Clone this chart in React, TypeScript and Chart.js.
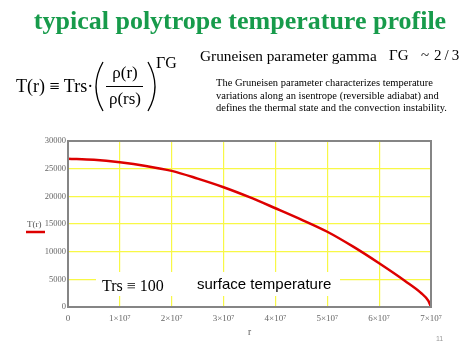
import React, { useEffect, useRef } from "react";
import { Chart, registerables } from "chart.js";

Chart.register(...registerables);

// ---- data ----
const radius = [0, 0.5e7, 1e7, 1.5e7, 2e7, 2.5e7, 3e7, 3.5e7, 4e7, 4.5e7, 5e7, 5.5e7, 6e7, 6.5e7, 6.8e7, 6.95e7, 7e7];
const temperature = [26800, 26600, 26150, 25500, 24600, 23200, 21650, 19850, 17850, 15800, 13600, 10900, 7900, 4700, 2600, 1100, 0];
const xTickValues = [0, 1e7, 2e7, 3e7, 4e7, 5e7, 6e7, 7e7];
const xTickLabels = ["0", "1×10⁷", "2×10⁷", "3×10⁷", "4×10⁷", "5×10⁷", "6×10⁷", "7×10⁷"];
const yTickValues = [0, 5000, 10000, 15000, 20000, 25000, 30000];
const yTickLabels = ["0", "5000", "10000", "15000", "20000", "25000", "30000"];

const SERIF = '"Liberation Serif", "Times New Roman", serif';
const SANS = '"Liberation Sans", Arial, sans-serif';
const GRID = "rgb(248,248,70)";

const overlayPlugin = {
  id: "slideOverlay",
  beforeDatasetsDraw(chart: any) {
    const { ctx } = chart;
    ctx.save();
    ctx.fillStyle = "#ffffff";
    ctx.fillRect(96, 272, 244, 24);
    ctx.restore();
  },
  afterDraw(chart: any) {
    const { ctx, chartArea } = chart;
    ctx.save();
    // plot frame
    ctx.strokeStyle = "#858585";
    ctx.lineWidth = 2;
    ctx.strokeRect(chartArea.left, chartArea.top, chartArea.right - chartArea.left, chartArea.bottom - chartArea.top);
    // annotations
    ctx.fillStyle = "#000";
    ctx.textBaseline = "alphabetic";
    ctx.textAlign = "left";
    ctx.font = `16px ${SERIF}`;
    ctx.fillText("Trs ≡ 100", 102, 291);
    ctx.font = `15px ${SANS}`;
    ctx.fillText("surface temperature", 197, 289);
    // legend-like label
    ctx.fillStyle = "#555";
    ctx.font = `9px ${SERIF}`;
    ctx.fillText("T(r)", 27, 227);
    ctx.strokeStyle = "#dd0000";
    ctx.lineWidth = 2.5;
    ctx.beginPath();
    ctx.moveTo(26, 232);
    ctx.lineTo(45, 232);
    ctx.stroke();
    // page number
    ctx.fillStyle = "#999";
    ctx.font = `7px ${SANS}`;
    ctx.fillText("11", 436, 341);
    ctx.restore();
  },
};

function Txt(props: { x: number; y: number; size: number; children: any; style?: any; center?: boolean }) {
  const { x, y, size, children, style, center } = props;
  const base: any = {
    position: "absolute",
    top: y - 0.8375 * size,
    fontSize: size,
    lineHeight: size + "px",
    whiteSpace: "nowrap",
    fontFamily: SERIF,
    color: "#000",
  };
  if (center) {
    base.left = x - 100;
    base.width = 200;
    base.textAlign = "center";
  } else {
    base.left = x;
  }
  return <div style={{ ...base, ...style }}>{children}</div>;
}

export default function App() {
  const canvasRef = useRef<HTMLCanvasElement | null>(null);

  useEffect(() => {
    const canvas = canvasRef.current;
    if (!canvas) return;
    const chart = new Chart(canvas, {
      type: "line",
      data: {
        datasets: [
          {
            label: "T(r)",
            data: radius.map((r, i) => ({ x: r, y: temperature[i] })),
            borderColor: "#dd0000",
            borderWidth: 2.5,
            pointRadius: 0,
            fill: false,
            cubicInterpolationMode: "monotone",
          },
        ],
      },
      options: {
        animation: false,
        responsive: false,
        devicePixelRatio: 1,
        layout: { padding: { left: 0, top: 141, right: 43, bottom: 0 } },
        plugins: { legend: { display: false }, tooltip: { enabled: false } },
        scales: {
          x: {
            type: "linear",
            min: 0,
            max: 7e7,
            afterFit: (s: any) => {
              s.height = 48;
            },
            afterBuildTicks: (s: any) => {
              s.ticks = xTickValues.map((v) => ({ value: v }));
            },
            ticks: {
              callback: (v: any) => {
                const i = xTickValues.indexOf(Number(v));
                return i >= 0 ? xTickLabels[i] : "";
              },
              color: "#666",
              font: { family: SERIF, size: 9 },
              padding: 6,
              maxRotation: 0,
              autoSkip: false,
            },
            grid: { color: GRID, lineWidth: 1.2, drawTicks: false },
            border: { display: false },
            title: {
              display: true,
              text: "r",
              color: "#555",
              font: { family: SERIF, size: 9.5 },
              padding: { top: 0, bottom: 17 },
            },
          },
          y: {
            min: 0,
            max: 30000,
            afterFit: (s: any) => {
              s.width = 68;
            },
            afterBuildTicks: (s: any) => {
              s.ticks = yTickValues.map((v) => ({ value: v }));
            },
            ticks: {
              callback: (v: any) => {
                const i = yTickValues.indexOf(Number(v));
                return i >= 0 ? yTickLabels[i] : "";
              },
              color: "#666",
              font: { family: SERIF, size: 8.5 },
              padding: 2,
            },
            grid: { color: GRID, lineWidth: 1.2, drawTicks: false },
            border: { display: false },
          },
        },
      },
      plugins: [overlayPlugin],
    } as any);
    return () => chart.destroy();
  }, []);

  return (
    <div style={{ position: "absolute", left: 0, top: 0, width: 474, height: 355, background: "#fff", overflow: "hidden" }}>
      <canvas ref={canvasRef} width={474} height={355} style={{ position: "absolute", left: 0, top: 0, width: 474, height: 355 }} />
      <div
        style={{
          position: "absolute",
          left: 0,
          width: 480,
          top: 29.5 - 0.8375 * 26,
          textAlign: "center",
          fontFamily: SERIF,
          fontWeight: "bold",
          fontSize: 26,
          lineHeight: "26px",
          color: "#179b4b",
          whiteSpace: "nowrap",
        }}
      >
        typical polytrope temperature profile
      </div>
      <Txt x={16} y={92} size={18}>T(r) ≡ Trs·</Txt>
      <Txt x={125} y={78} size={17} center>ρ(r)</Txt>
      <Txt x={125} y={104} size={17} center>ρ(rs)</Txt>
      <div style={{ position: "absolute", left: 106, top: 86, width: 37, height: 1, background: "#000" }} />
      <svg width={474} height={355} style={{ position: "absolute", left: 0, top: 0 }}>
        <path d="M 103 62 Q 89 86.5 103 111" stroke="#000" strokeWidth={1.3} fill="none" />
        <path d="M 148 62 Q 162 86.5 148 111" stroke="#000" strokeWidth={1.3} fill="none" />
      </svg>
      <Txt x={156} y={68} size={16}>ΓG</Txt>
      <Txt x={200} y={61} size={15.3}>Gruneisen parameter gamma</Txt>
      <Txt x={389} y={61} size={15}>ΓG</Txt>
      <Txt x={421} y={61} size={15}>~</Txt>
      <Txt x={434} y={61} size={15} style={{ letterSpacing: 3 }}>2/3</Txt>
      <Txt x={216} y={86.7} size={10.5}>The Gruneisen parameter characterizes temperature</Txt>
      <Txt x={216} y={99.3} size={10.5}>variations along an isentrope (reversible adiabat) and</Txt>
      <Txt x={216} y={111.7} size={10.5}>defines the thermal state and the convection instability.</Txt>
    </div>
  );
}
